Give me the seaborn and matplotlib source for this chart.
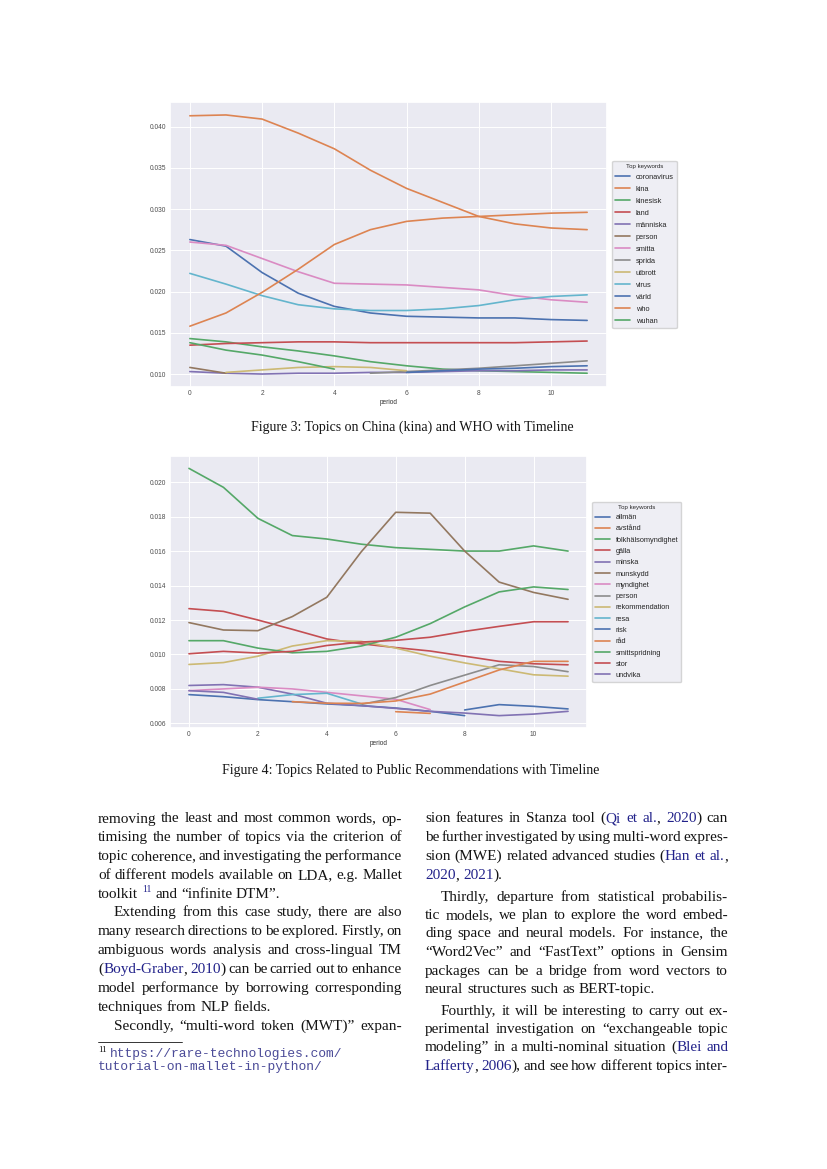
import numpy as np
import pandas as pd
import seaborn as sns
import matplotlib.pyplot as plt
from matplotlib.ticker import FormatStrFormatter
from matplotlib.lines import Line2D

nan = np.nan
periods = list(range(12))

# Figure 3: topics on China (kina) and WHO
kw3 = ['coronavirus', 'kina', 'kinesisk', 'land', 'människa', 'person', 'smitta',
       'sprida', 'utbrott', 'virus', 'värld', 'who', 'wuhan']
coronavirus = [0.0263, 0.0255, 0.0223, 0.0198, 0.0182, 0.0174, 0.0170, 0.0169, 0.0168, 0.0168, 0.0166, 0.0165]
kina = [0.0413, 0.0414, 0.0409, 0.0392, 0.0373, 0.0347, 0.0325, 0.0308, 0.0291, 0.0282, 0.0277, 0.0275]
kinesisk = [0.0143, 0.0139, 0.0133, 0.0128, 0.0122, 0.0115, 0.0110, 0.0106, 0.0104, 0.0103, 0.0102, 0.0101]
land = [0.0135, 0.0137, 0.0138, 0.0139, 0.0139, 0.0138, 0.0138, 0.0138, 0.0138, 0.0138, 0.0139, 0.0140]
manniska = [0.0103, 0.0101, 0.0100, 0.0101, 0.0101, 0.0102, 0.0102, 0.0103, 0.0104, 0.0104, 0.0105, 0.0105]
person3 = [0.0108, 0.0101, nan, nan, nan, nan, nan, nan, nan, nan, nan, nan]
smitta = [0.0260, 0.0256, 0.0240, 0.0224, 0.0210, 0.0209, 0.0208, 0.0205, 0.0202, 0.0195, 0.0190, 0.0187]
sprida = [nan, nan, nan, nan, nan, 0.0101, 0.0103, 0.0105, 0.0107, 0.0110, 0.0113, 0.0116]
utbrott = [nan, 0.0102, 0.0105, 0.0108, 0.0109, 0.0108, 0.0104, nan, nan, nan, nan, nan]
virus = [0.0222, 0.0209, 0.0195, 0.0184, 0.0179, 0.0177, 0.0177, 0.0179, 0.0183, 0.0190, 0.0194, 0.0196]
varld = [nan, nan, nan, nan, nan, nan, 0.0102, 0.0104, 0.0106, 0.0107, 0.0109, 0.0110]
who = [0.0158, 0.0174, 0.0199, 0.0227, 0.0257, 0.0275, 0.0285, 0.0289, 0.0291, 0.0293, 0.0295, 0.0296]
wuhan = [0.0138, 0.0129, 0.0123, 0.0115, 0.0106, nan, nan, nan, nan, nan, nan, nan]
vals3 = [coronavirus, kina, kinesisk, land, manniska, person3, smitta, sprida, utbrott, virus, varld, who, wuhan]
yt3 = [0.010, 0.015, 0.020, 0.025, 0.030, 0.035, 0.040]

# Figure 4: public recommendations
kw4 = ['allmän', 'avstånd', 'folkhälsomyndighet', 'gälla', 'minska', 'munskydd', 'myndighet',
       'person', 'rekommendation', 'resa', 'risk', 'råd', 'smittspridning', 'stor', 'undvika']
allman = [0.00767, 0.00755, 0.00738, 0.00726, 0.00713, 0.00703, 0.00689, 0.00670, 0.00645, nan, nan, nan]
avstand = [nan, nan, nan, nan, nan, nan, 0.00668, 0.00658, nan, nan, nan, nan]
folkhalso = [0.0208, 0.0197, 0.0179, 0.0169, 0.0167, 0.0164, 0.0162, 0.0161, 0.0160, 0.0160, 0.0163, 0.0160]
galla = [0.01266, 0.0125, 0.0120, 0.01146, 0.0109, 0.01062, 0.0104, 0.0102, 0.0099, 0.0096, 0.00946, 0.0094]
minska = [0.0082, 0.00825, 0.0081, 0.0077, 0.00717, 0.00703, 0.00687, 0.0067, 0.0066, 0.00645, 0.00654, 0.0067]
munskydd = [0.01185, 0.01142, 0.01138, 0.0122, 0.01332, 0.01596, 0.01825, 0.0182, 0.0160, 0.0142, 0.0136, 0.0132]
myndighet = [0.0079, 0.0080, 0.0081, 0.0080, 0.0078, 0.0076, 0.0074, 0.0068, nan, nan, nan, nan]
person4 = [nan, nan, nan, nan, nan, 0.0071, 0.0075, 0.0082, 0.0088, 0.0094, 0.0093, 0.0090]
rekommendation = [0.00942, 0.00953, 0.0099, 0.01049, 0.0108, 0.01076, 0.01037, 0.0099, 0.00951, 0.00917, 0.00882, 0.00874]
resa = [nan, nan, 0.00746, 0.00767, 0.00775, 0.00713, nan, nan, nan, nan, nan, nan]
risk = [nan, nan, nan, nan, nan, nan, nan, nan, 0.00678, 0.00709, 0.00699, 0.00684]
rad = [nan, nan, nan, 0.00726, 0.00717, 0.00716, 0.0073, 0.0077, 0.0084, 0.0091, 0.0096, 0.0096]
smittspridning = [0.0108, 0.0108, 0.01037, 0.0101, 0.01018, 0.01049, 0.0110, 0.01179, 0.01276, 0.01363, 0.01392, 0.01377]
stor = [0.01004, 0.01018, 0.01008, 0.01018, 0.01052, 0.01072, 0.01082, 0.0110, 0.01134, 0.01163, 0.0119, 0.0119]
undvika = [0.0079, 0.0078, 0.0074, nan, nan, nan, nan, nan, nan, nan, nan, nan]
vals4 = [allman, avstand, folkhalso, galla, minska, munskydd, myndighet, person4,
         rekommendation, resa, risk, rad, smittspridning, stor, undvika]
yt4 = [0.006, 0.008, 0.010, 0.012, 0.014, 0.016, 0.018, 0.020]

# page text
cap3 = 'Figure 3: Topics on China (kina) and WHO with Timeline'
cap4 = 'Figure 4: Topics Related to Public Recommendations with Timeline'
left_col = [
    ('removing the least and most common words, op-', 0, True),
    ('timising the number of topics via the criterion of', 0, True),
    ('topic coherence, and investigating the performance', 0, True),
    ('of different models available on LDA, e.g. Mallet', 0, True),
    ('toolkit ^11 and “infinite DTM”.', 0, False),
    ('Extending from this case study, there are also', 1, True),
    ('many research directions to be explored. Firstly, on', 0, True),
    ('ambiguous words analysis and cross-lingual TM', 0, True),
    ('({Boyd-Graber}, {2010}) can be carried out to enhance', 0, True),
    ('model performance by borrowing corresponding', 0, True),
    ('techniques from NLP fields.', 0, False),
    ('Secondly, “multi-word token (MWT)” expan-', 1, True),
]
left_base = [822.5, 841.3, 860, 879, 897.5, 916.3, 935, 954, 973, 991.7, 1010.7, 1029.7]
right_col = [
    ('sion features in Stanza tool ({Qi et al.}, {2020}) can', 0, True),
    ('be further investigated by using multi-word expres-', 0, True),
    ('sion (MWE) related advanced studies ({Han et al.},', 0, True),
    ('{2020}, {2021}).', 0, False),
    ('Thirdly, departure from statistical probabilis-', 1, True),
    ('tic models, we plan to explore the word embed-', 0, True),
    ('ding space and neural models. For instance, the', 0, True),
    ('“Word2Vec” and “FastText” options in Gensim', 0, True),
    ('packages can be a bridge from word vectors to', 0, True),
    ('neural structures such as BERT-topic.', 0, False),
    ('Fourthly, it will be interesting to carry out ex-', 1, True),
    ('perimental investigation on “exchangeable topic', 0, True),
    ('modeling” in a multi-nominal situation ({Blei and', 0, True),
    ('{Lafferty}, {2006}), and see how different topics inter-', 0, True),
]
right_base = [822.3, 841.3, 860, 879, 900.7, 919, 937.3, 956.3, 974.7, 993.3, 1014.7, 1033.3, 1051.3, 1070]

W, H = 827, 1169
INK = '#141414'
LINK = '#22228a'
URL = '#4b4b98'
BODY = 11


def fx(px):
    return px / W


def fy(py):
    return 1 - py / H


def long_df(names, series):
    rows = []
    for name, vals in zip(names, series):
        for p, v in zip(periods, vals):
            if not np.isnan(v):
                rows.append((p, name, v))
    return pd.DataFrame(rows, columns=['period', 'keyword', 'value'])


sns.set_theme(style='darkgrid', rc={'xtick.major.size': 0, 'ytick.major.size': 0,
                                    'xtick.major.pad': 2.5, 'ytick.major.pad': 2.5,
                                    'axes.labelpad': 1.0, 'grid.linewidth': 0.7})
plt.rcParams['font.family'] = ['Liberation Sans', 'DejaVu Sans']
deep = sns.color_palette('deep')

fig = plt.figure(figsize=(W / 100, H / 100), dpi=100)
fig.patch.set_facecolor('white')


def draw(ax, names, series, yticks, spacing):
    pal = [deep[i % 10] for i in range(len(names))]
    sns.lineplot(data=long_df(names, series), x='period', y='value', hue='keyword',
                 hue_order=names, palette=pal, linewidth=1.2, ax=ax)
    ax.set_xticks([0, 2, 4, 6, 8, 10])
    ax.set_yticks(yticks)
    ax.yaxis.set_major_formatter(FormatStrFormatter('%.3f'))
    ax.set_ylabel('')
    ax.set_xlabel('period', fontsize=4.7, color='0.2')
    ax.tick_params(labelsize=4.8, labelcolor='0.3')
    sns.move_legend(ax, 'center left', bbox_to_anchor=(1.004, 0.5), title='Top keywords',
                    fontsize=5.3, title_fontsize=4.4, labelspacing=spacing)


ax1 = fig.add_axes([fx(170), fy(387), (607 - 170) / W, (387 - 102) / H])
draw(ax1, kw3, vals3, yt3, 0.66)
ax2 = fig.add_axes([fx(170), fy(728), (587 - 170) / W, (728 - 456) / H])
draw(ax2, kw4, vals4, yt4, 0.56)

fig.text(fx(412.5), fy(431), cap3, ha='center', va='baseline', fontsize=10,
         family='Liberation Serif', color=INK)
fig.text(fx(410.5), fy(774), cap4, ha='center', va='baseline', fontsize=10,
         family='Liberation Serif', color=INK)

renderer = fig.canvas.get_renderer()


def put_line(x0, base, width, line, indent, justify):
    words = []
    blue = False
    for raw in line.split(' '):
        segs = []
        cur = ''
        for ch in raw:
            if ch in '{}':
                if cur:
                    segs.append((cur, blue))
                cur = ''
                blue = ch == '{'
            else:
                cur += ch
        if cur:
            segs.append((cur, blue))
        words.append(segs)
    items = []
    for segs in words:
        ws = []
        for s, b in segs:
            sup = s.startswith('^')
            txt = s[1:] if sup else s
            t = fig.text(0, 0, txt, fontsize=7 if sup else BODY, family='Liberation Serif',
                         color=LINK if (b or sup) else INK, va='baseline')
            ws.append((t, t.get_window_extent(renderer).width, sup))
        items.append(ws)
    x = x0 + indent * 16
    total = sum(w for ws in items for _, w, _ in ws)
    gap = BODY * 100 / 72 * 0.25
    if justify and len(items) > 1:
        gap = (width - indent * 16 - total) / (len(items) - 1)
    for ws in items:
        for t, w, sup in ws:
            t.set_position((fx(x), fy(base - (6 if sup else 0))))
            x += w
        x += gap


for (line, ind, just), b in zip(left_col, left_base):
    put_line(98, b, 304, line, ind, just)
for (line, ind, just), b in zip(right_col, right_base):
    put_line(425, b, 303, line, ind, just)

# footnote
fig.add_artist(Line2D([fx(98), fx(182)], [fy(1042), fy(1042)], lw=0.6, color=INK))
fig.text(fx(98), fy(1052.5), '11', fontsize=6.5, family='Liberation Serif', color=INK, va='baseline')
fig.text(fx(110), fy(1057.5), 'https://rare-technologies.com/', fontsize=9.4,
         family='Liberation Mono', color=URL, va='baseline')
fig.text(fx(98), fy(1070), 'tutorial-on-mallet-in-python/', fontsize=9.4,
         family='Liberation Mono', color=URL, va='baseline')

fig.savefig('out.png', dpi=100)
